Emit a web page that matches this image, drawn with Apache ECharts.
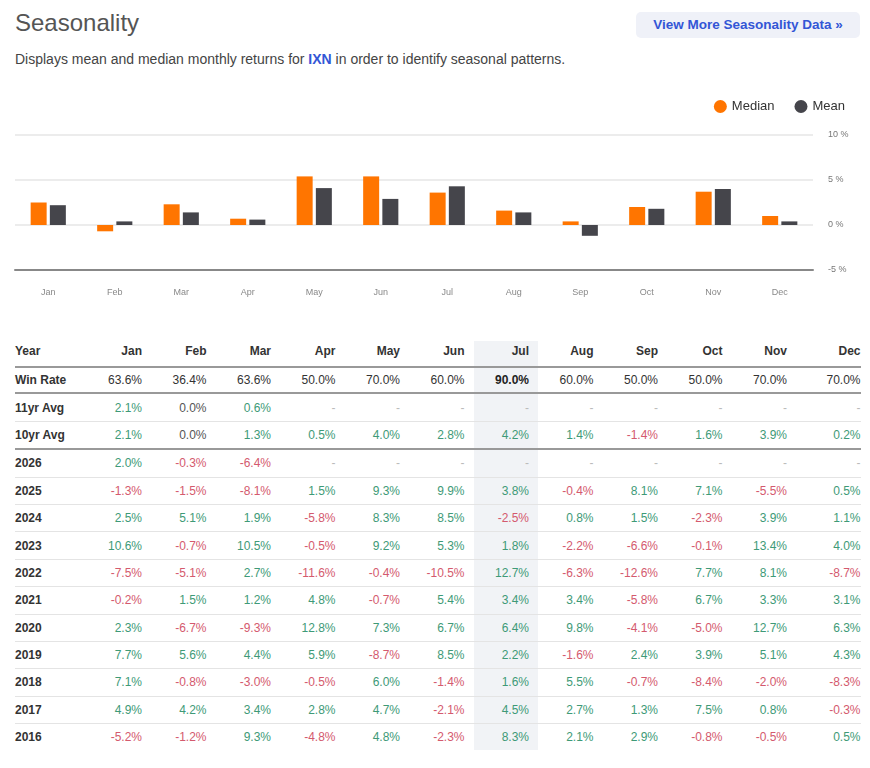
<!DOCTYPE html>
<html>
<head>
<meta charset="utf-8">
<script src="https://cdn.jsdelivr.net/npm/echarts@6/dist/echarts.min.js"></script>
<style>
  body { margin: 0; background: #fff; font-family: 'Liberation Sans', Arial, sans-serif; }
  #page { position: relative; width: 870px; height: 768px; overflow: hidden; }
  #title { position: absolute; left: 15px; top: 9px; font-size: 24px; color: #555; }
  #btn { position: absolute; left: 636px; top: 12px; width: 224px; height: 26px; line-height: 26px;
    background: #eff1f8; border-radius: 5px; text-align: center; font-size: 13.5px; font-weight: bold; color: #3356d6; }
  #sub { position: absolute; left: 15px; top: 51px; font-size: 14px; color: #444; }
  #sub b { color: #3356d6; }
  #chart { position: absolute; left: 0; top: 85px; width: 870px; height: 220px; }
  #tbl { position: absolute; left: 15px; top: 341px; border-collapse: collapse; table-layout: fixed; font-size: 12px; }
  #tbl td { padding: 0 9px 0 0; text-align: right; white-space: nowrap; height: 26.4px; border-bottom: 1px solid #e4e4e4; }
  #tbl td:first-child { text-align: left; color: #333; font-weight: bold; }
  #tbl td:last-child { padding-right: 0; }
  #tbl tr.hd td { height: 21px; padding-top: 3px; padding-bottom: 1px; font-weight: bold; color: #333; border-bottom: 2px solid #999; vertical-align: top; }
  #tbl tr.major td { border-bottom: 2px solid #999; }
  #tbl tr.wr td { height: 24.4px; }
  #tbl tr:last-child td { border-bottom: none; }
  #tbl td.hl { background: #f1f3f6; }
  .pos { color: #3e9a77; }
  .neg { color: #d45a6e; }
  .zero { color: #555; }
  .na { color: #bbb; }
  .wv { color: #333; }
</style>
</head>
<body>
<div id="page">
  <div id="title">Seasonality</div>
  <div id="btn">View More Seasonality Data »</div>
  <div id="sub">Displays mean and median monthly returns for <b>IXN</b> in order to identify seasonal patterns.</div>
  <div id="chart"></div>
  <table id="tbl"></table>
</div>
<script>
// chart data
const months = ['Jan', 'Feb', 'Mar', 'Apr', 'May', 'Jun', 'Jul', 'Aug', 'Sep', 'Oct', 'Nov', 'Dec']
const medianVals = [2.5, -0.7, 2.3, 0.7, 5.4, 5.4, 3.6, 1.6, 0.4, 2.0, 3.7, 1.0]
const meanVals = [2.2, 0.4, 1.4, 0.6, 4.1, 2.9, 4.3, 1.4, -1.2, 1.8, 4.0, 0.4]

// table data
const winRate = ['63.6%', '36.4%', '63.6%', '50.0%', '70.0%', '60.0%', '90.0%', '60.0%', '50.0%', '50.0%', '70.0%', '70.0%']
const avg11 = [2.1, 0.0, 0.6, null, null, null, null, null, null, null, null, null]
const avg10 = [2.1, 0.0, 1.3, 0.5, 4.0, 2.8, 4.2, 1.4, -1.4, 1.6, 3.9, 0.2]
const y2026 = [2.0, -0.3, -6.4, null, null, null, null, null, null, null, null, null]
const y2025 = [-1.3, -1.5, -8.1, 1.5, 9.3, 9.9, 3.8, -0.4, 8.1, 7.1, -5.5, 0.5]
const y2024 = [2.5, 5.1, 1.9, -5.8, 8.3, 8.5, -2.5, 0.8, 1.5, -2.3, 3.9, 1.1]
const y2023 = [10.6, -0.7, 10.5, -0.5, 9.2, 5.3, 1.8, -2.2, -6.6, -0.1, 13.4, 4.0]
const y2022 = [-7.5, -5.1, 2.7, -11.6, -0.4, -10.5, 12.7, -6.3, -12.6, 7.7, 8.1, -8.7]
const y2021 = [-0.2, 1.5, 1.2, 4.8, -0.7, 5.4, 3.4, 3.4, -5.8, 6.7, 3.3, 3.1]
const y2020 = [2.3, -6.7, -9.3, 12.8, 7.3, 6.7, 6.4, 9.8, -4.1, -5.0, 12.7, 6.3]
const y2019 = [7.7, 5.6, 4.4, 5.9, -8.7, 8.5, 2.2, -1.6, 2.4, 3.9, 5.1, 4.3]
const y2018 = [7.1, -0.8, -3.0, -0.5, 6.0, -1.4, 1.6, 5.5, -0.7, -8.4, -2.0, -8.3]
const y2017 = [4.9, 4.2, 3.4, 2.8, 4.7, -2.1, 4.5, 2.7, 1.3, 7.5, 0.8, -0.3]
const y2016 = [-5.2, -1.2, 9.3, -4.8, 4.8, -2.3, 8.3, 2.1, 2.9, -0.8, -0.5, 0.5]

const yearRows = [
  ['2026', y2026], ['2025', y2025], ['2024', y2024], ['2023', y2023], ['2022', y2022], ['2021', y2021],
  ['2020', y2020], ['2019', y2019], ['2018', y2018], ['2017', y2017], ['2016', y2016]
]

const colW = [71.5].concat(months.map(() => 64.5))
const hlCol = 7 // Jul

const cell = (v) => {
  if (v === null) return ['na', '-']
  const cls = v > 0 ? 'pos' : v < 0 ? 'neg' : 'zero'
  return [cls, v.toFixed(1) + '%']
}

const buildTable = () => {
  const tbl = document.getElementById('tbl')
  let html = '<colgroup>' + colW.map((w) => '<col style="width:' + w + 'px">').join('') + '</colgroup>'
  const row = (cls, label, cells) => {
    let s = '<tr class="' + cls + '"><td>' + label + '</td>'
    cells.forEach((c, i) => {
      const hl = i + 1 === hlCol ? ' hl' : ''
      s += '<td class="' + c[0] + hl + '"' + (c[2] ? ' style="font-weight:bold;color:#222"' : '') + '>' + c[1] + '</td>'
    })
    return s + '</tr>'
  }
  html += row('hd', 'Year', months.map((m) => ['', m]))
  // win rate row, best month in bold
  html += row('major wr', 'Win Rate', winRate.map((w, i) => ['wv', w, i + 1 === hlCol]))
  html += row('', '11yr Avg', avg11.map(cell))
  html += row('major', '10yr Avg', avg10.map(cell))
  yearRows.forEach((r) => {
    html += row('', r[0], r[1].map(cell))
  })
  tbl.innerHTML = html
}
buildTable()

const initChart = () => {
  const myChart = echarts.init(document.getElementById('chart'))
  const option = {
    animation: false,
    color: ['#ff7500', '#45454b'],
    legend: {
      right: 20,
      top: 10,
      icon: 'circle',
      itemWidth: 13,
      itemHeight: 13,
      itemGap: 20,
      textStyle: { color: '#333', fontSize: 13, fontFamily: 'Liberation Sans' }
    },
    grid: { left: 15, right: 57, top: 50, bottom: 35 },
    xAxis: {
      type: 'category',
      data: months,
      axisLine: { onZero: false, lineStyle: { color: '#888', width: 2 } },
      axisTick: { alignWithLabel: true, length: 9, lineStyle: { color: '#888', width: 1.5 } },
      axisLabel: { color: '#888', fontSize: 9, margin: 18, fontFamily: 'Liberation Sans' }
    },
    yAxis: {
      type: 'value',
      position: 'right',
      min: -5,
      max: 10,
      interval: 5,
      axisLine: { show: false },
      axisTick: { show: false },
      axisLabel: { color: '#777', fontSize: 9, margin: 15, formatter: '{value} %', fontFamily: 'Liberation Sans' },
      splitLine: { lineStyle: { color: '#ececec', width: 2 } }
    },
    series: [
      { name: 'Median', type: 'bar', data: medianVals, barWidth: 16, barGap: '20%' },
      { name: 'Mean', type: 'bar', data: meanVals, barWidth: 16 }
    ]
  }
  myChart.setOption(option)
}
initChart()
</script>
</body>
</html>
